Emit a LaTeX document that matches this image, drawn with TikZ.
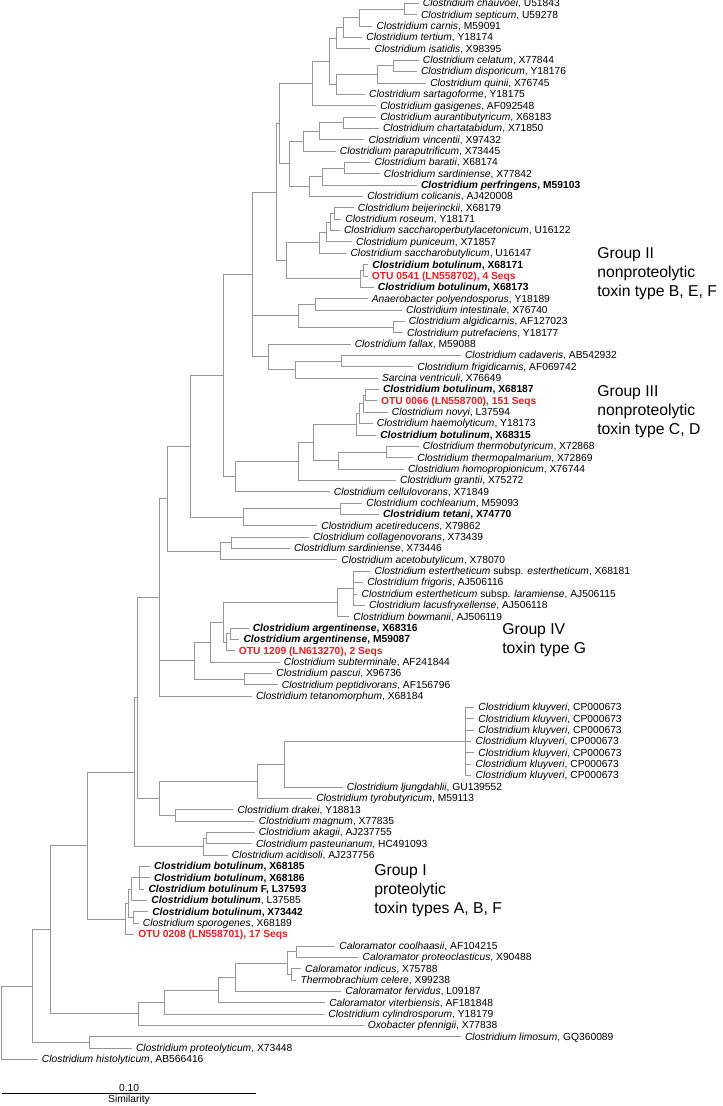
\documentclass[tikz,border=0pt]{standalone}
\usepackage{fontspec}
\setmainfont{Liberation Sans}
\usetikzlibrary{calc}
\definecolor{otured}{RGB}{235,30,36}
\definecolor{brgray}{RGB}{150,150,150}
\newcommand\lf[4][]{\node[leaf,#1] (l#2) at ({#3-4},{3.5+(#2-1)*11.355}) {#4};}
\newcommand\nd[4]{%
  \path ($(#3)!0.5!(#4)$) coordinate (mid);
  \coordinate (#1) at (#2,0 |- mid);
  \draw[br] (#1) |- (#3);
  \draw[br] (#1) |- (#4);}
\newcommand\ndm[5]{\nd{#1}{#2}{#3}{#4}\foreach \c in {#5}{\draw[br] (#1) |- (\c);}}
\newcommand\cl[1]{\textit{Clostridium #1}}
\newcommand\bb[2]{\textbf{\textit{Clostridium botulinum}#1, #2}}
\begin{document}
\begin{tikzpicture}[x=0.75pt,y=-0.75pt,
  leaf/.style={anchor=west,inner xsep=3pt,inner ysep=0pt,text height=6.5pt,text depth=1.5pt,font=\fontsize{7.7pt}{9pt}\selectfont},
  otu/.style={text=otured,font=\fontsize{7.7pt}{9pt}\selectfont\bfseries},
  br/.style={draw=brgray,line width=0.7pt},
  grp/.style={anchor=west,align=left,inner sep=0pt,font=\fontsize{11.8pt}{14.3pt}\selectfont}]
\useasboundingbox (0,0) rectangle (723,1106);
% leaves
\lf{1}{422.6}{\cl{chauvoei}, U51843}
\lf{2}{420.8}{\cl{septicum}, U59278}
\lf{3}{376.3}{\cl{carnis}, M59091}
\lf{4}{366.1}{\cl{tertium}, Y18174}
\lf{5}{374.4}{\cl{isatidis}, X98395}
\lf{6}{422.6}{\cl{celatum}, X77844}
\lf{7}{420.8}{\cl{disporicum}, Y18176}
\lf{8}{430.0}{\cl{quinii}, X76745}
\lf{9}{368.9}{\cl{sartagoforme}, Y18175}
\lf{10}{380.0}{\cl{gasigenes}, AF092548}
\lf{11}{380.0}{\cl{aurantibutyricum}, X68183}
\lf{12}{382.8}{\cl{chartatabidum}, X71850}
\lf{13}{368.4}{\cl{vincentii}, X97432}
\lf{14}{339.7}{\cl{paraputrificum}, X73445}
\lf{15}{374.4}{\cl{baratii}, X68174}
\lf{16}{383.7}{\cl{sardiniense}, X77842}
\lf{17}{420.8}{\textbf{\cl{perfringens}, M59103}}
\lf{18}{367.0}{\cl{colicanis}, AJ420008}
\lf{19}{357.7}{\cl{beijerinckii}, X68179}
\lf{20}{345.2}{\cl{roseum}, Y18171}
\lf{21}{343.8}{\cl{saccharoperbutylacetonicum}, U16122}
\lf{22}{355.9}{\cl{puniceum}, X71857}
\lf{23}{350.3}{\cl{saccharobutylicum}, U16147}
\lf{24}{372.1}{\bb{}{X68171}}
\lf[otu]{25}{371.6}{OTU 0541 (LN558702), 4 Seqs}
\lf{26}{377.7}{\bb{}{X68173}}
\lf{27}{371.6}{\textit{Anaerobacter polyendosporus}, Y18189}
\lf{28}{405.9}{\cl{intestinale}, X76740}
\lf{29}{408.7}{\cl{algidicarnis}, AF127023}
\lf{30}{406.9}{\cl{putrefaciens}, Y18177}
\lf{31}{354.5}{\cl{fallax}, M59088}
\lf{32}{464.8}{\cl{cadaveris}, AB542932}
\lf{33}{417.1}{\cl{frigidicarnis}, AF069742}
\lf{34}{381.8}{\textit{Sarcina ventriculi}, X76649}
\lf{35}{382.8}{\bb{}{X68187}}
\lf[otu]{36}{380.9}{OTU 0066 (LN558700), 151 Seqs}
\lf{37}{391.6}{\cl{novyi}, L37594}
\lf{38}{376.7}{\cl{haemolyticum}, Y18173}
\lf{39}{380.0}{\bb{}{X68315}}
\lf{40}{422.6}{\cl{thermobutyricum}, X72868}
\lf{41}{417.1}{\cl{thermopalmarium}, X72869}
\lf{42}{407.8}{\cl{homopropionicum}, X76744}
\lf{43}{399.9}{\cl{grantii}, X75272}
\lf{44}{333.6}{\cl{cellulovorans}, X71849}
\lf{45}{366.1}{\cl{cochlearium}, M59093}
\lf{46}{382.8}{\textbf{\cl{tetani}, X74770}}
\lf{47}{321.1}{\cl{acetireducens}, X79862}
\lf{48}{312.8}{\cl{collagenovorans}, X73439}
\lf{49}{293.8}{\cl{sardiniense}, X73446}
\lf{50}{341.1}{\cl{acetobutylicum}, X78070}
\lf{51}{374.4}{\cl{estertheticum} subsp. \textit{estertheticum}, X68181}
\lf{52}{367.0}{\cl{frigoris}, AJ506116}
\lf{53}{361.4}{\cl{estertheticum} subsp. \textit{laramiense}, AJ506115}
\lf{54}{368.9}{\cl{lacusfryxellense}, AJ506118}
\lf{55}{353.1}{\cl{bowmanii}, AJ506119}
\lf{56}{252.5}{\textbf{\cl{argentinense}, X68316}}
\lf{57}{243.3}{\textbf{\cl{argentinense}, M59087}}
\lf[otu]{58}{238.6}{OTU 1209 (LN613270), 2 Seqs}
\lf{59}{283.6}{\cl{subterminale}, AF241844}
\lf{60}{276.2}{\cl{pascui}, X96736}
\lf{61}{281.7}{\cl{peptidivorans}, AF156796}
\lf{62}{255.8}{\cl{tetanomorphum}, X68184}
\lf{63}{478.2}{\cl{kluyveri}, CP000673}
\lf{64}{478.2}{\cl{kluyveri}, CP000673}
\lf{65}{478.2}{\cl{kluyveri}, CP000673}
\lf{66}{475.4}{\cl{kluyveri}, CP000673}
\lf{67}{478.2}{\cl{kluyveri}, CP000673}
\lf{68}{475.4}{\cl{kluyveri}, CP000673}
\lf{69}{475.4}{\cl{kluyveri}, CP000673}
\lf{70}{346.6}{\cl{ljungdahlii}, GU139552}
\lf{71}{316.0}{\cl{tyrobutyricum}, M59113}
\lf{72}{237.3}{\cl{drakei}, Y18813}
\lf{73}{258.6}{\cl{magnum}, X77835}
\lf{74}{258.6}{\cl{akagii}, AJ237755}
\lf{75}{255.8}{\cl{pasteurianum}, HC491093}
\lf{76}{231.7}{\cl{acidisoli}, AJ237756}
\lf{77}{153.8}{\bb{}{X68185}}
\lf{78}{153.8}{\bb{}{X68186}}
\lf{79}{148.3}{\bb{ \textup{F}}{L37593}}
\lf{80}{151.1}{\textbf{\cl{botulinum}}, L37585}
\lf{81}{152.0}{\bb{}{X73442}}
\lf{82}{142.7}{\cl{sporogenes}, X68189}
\lf[otu]{83}{138.1}{OTU 0208 (LN558701), 17 Seqs}
\lf{84}{339.2}{\textit{Caloramator coolhaasii}, AF104215}
\lf{85}{362.4}{\textit{Caloramator proteoclasticus}, X90488}
\lf{86}{304.9}{\textit{Caloramator indicus}, X75788}
\lf{87}{300.3}{\textit{Thermobrachium celere}, X99238}
\lf{88}{345.2}{\textit{Caloramator fervidus}, L09187}
\lf{89}{329.0}{\textit{Caloramator viterbiensis}, AF181848}
\lf{90}{328.1}{\cl{cylindrosporum}, Y18179}
\lf{91}{367.5}{\textit{Oxobacter pfennigii}, X77838}
\lf{92}{464.8}{\cl{limosum}, GQ360089}
\lf{93}{135.8}{\cl{proteolyticum}, X73448}
\lf{94}{41.7}{\cl{histolyticum}, AB566416}
% internal nodes
\nd{A}{404.5}{l1}{l2}
\nd{B}{359.1}{A}{l3}
\nd{C}{343.8}{B}{l4}
\nd{D}{336.9}{C}{l5}
\nd{G}{393.0}{l6}{l7}
\nd{F}{377.7}{G}{l8}
\nd{H}{336.9}{F}{l9}
\nd{E}{329.0}{D}{H}
\nd{I}{312.8}{E}{l10}
\nd{L}{343.8}{l11}{l12}
\nd{M}{319.7}{L}{l13}
\nd{N}{303.5}{M}{l14}
\nd{O}{344.8}{l15}{l16}
\nd{P}{322.1}{O}{l17}
\nd{Q}{309.5}{P}{l18}
\nd{R}{289.6}{N}{Q}
\nd{J}{279}{I}{R}
\nd{T1}{334.6}{l19}{l20}
\nd{T2}{330}{T1}{l21}
\nd{T3}{326.7}{T2}{l22}
\nd{T4}{319.7}{T3}{l23}
\nd{U1}{363}{l24}{l25}
\nd{U}{360.5}{U1}{l26}
\nd{S}{286.4}{T4}{U}
\nd{J2}{276.2}{J}{S}
\nd{X1}{315.1}{l27}{l28}
\nd{X2}{393}{l29}{l30}
\nd{X3}{298.9}{X1}{X2}
\nd{Y1}{341.5}{l32}{l33}
\nd{Y2}{295.6}{Y1}{l34}
\nd{W}{268.8}{l31}{Y2}
\ndm{V}{252.5}{J2}{W}{X3}
\nd{Z1a}{365.5}{l35}{l36}
\nd{Z1}{363.8}{Z1a}{l37}
\nd{Z2}{359.1}{Z1}{l38}
\nd{Z3}{356.8}{Z2}{l39}
\nd{TH1}{386.9}{l40}{l41}
\nd{TH2}{338.3}{TH1}{l42}
\nd{Z4}{313.7}{Z3}{TH2}
\nd{Z5}{298.9}{Z4}{l43}
\nd{Z6}{235.4}{Z5}{l44}
\nd{V2}{223.4}{V}{Z6}
\nd{CO1}{340.6}{l45}{l46}
\nd{CO2}{243.3}{CO1}{l47}
\nd{K1}{190}{V2}{CO2}
\nd{C1}{231.7}{l48}{l49}
\nd{C2}{220.1}{C1}{l50}
\nd{K2}{167.7}{K1}{C2}
\ndm{ES1}{353.1}{l51}{l54}{l52,l53}
\nd{ES2}{337.4}{ES1}{l55}
\nd{AR1}{230.3}{l56}{l57}
\nd{AR2}{226}{AR1}{l58}
\nd{Q1}{223.4}{ES2}{AR2}
\nd{Q3}{210.8}{Q1}{l59}
\nd{PA1}{244.7}{l60}{l61}
\nd{PA2}{194.6}{Q3}{PA1}
\ndm{R1}{159.9}{K2}{l62}{PA2}
\ndm{KL}{465.7}{l63}{l69}{l64,l65,l66,l67,l68}
\nd{KL2}{284}{KL}{l70}
\nd{KL3}{257.2}{KL2}{l71}
\nd{DR}{175.2}{l72}{l73}
\nd{KL4}{159.9}{KL3}{DR}
\nd{AK1}{206.2}{l74}{l75}
\nd{AK2}{203}{AK1}{l76}
\nd{NA}{137.6}{R1}{KL4}
\nd{NB}{134.4}{NA}{AK2}
\ndm{BOa}{139}{l77}{l79}{l78}
\nd{BOb}{131}{BOa}{l80}
\nd{BOx}{133}{l81}{l82}
\nd{BOc}{128.8}{BOb}{BOx}
\nd{BOd}{125.1}{BOc}{l83}
\nd{NC}{87.1}{NB}{BOd}
\nd{CA1}{296.6}{l84}{l85}
\nd{CA2}{291}{l86}{l87}
\nd{CA3}{287.3}{CA1}{CA2}
\nd{CA4}{235.4}{CA3}{l88}
\nd{CA5}{218.7}{CA4}{l89}
\nd{CA6}{164.5}{CA5}{l90}
\nd{CA7}{138.1}{CA6}{l91}
\nd{BIG1}{50}{NC}{CA7}
\nd{LI2}{89}{l92}{l93}
\nd{BIG0}{32.4}{BIG1}{LI2}
\nd{ROOT}{1}{BIG0}{l94}
% group labels
\node[grp] (g2) at (597,274) {Group II\\nonproteolytic\\toxin type B, E, F};
\node[grp] (g3) at (597,412) {Group III\\nonproteolytic\\toxin type C, D};
\node[grp] (g4) at (502,640) {Group IV\\toxin type G};
\node[grp] (g1) at (374,891) {Group I\\proteolytic\\toxin types A, B, F};
% scale bar
\coordinate (sb1) at (2.3,1093.3);
\coordinate (sb2) at (255.8,1093.3);
\draw[black,line width=0.8pt] (sb1) -- (sb2);
\node[anchor=south,inner sep=1pt,font=\fontsize{7.7pt}{9pt}\selectfont] (sbl) at ($(sb1)!0.5!(sb2)$) {0.10};
\node[anchor=north,inner sep=1pt,font=\fontsize{7.7pt}{9pt}\selectfont] (sbt) at ($(sb1)!0.5!(sb2)$) {Similarity};
\end{tikzpicture}
\end{document}
